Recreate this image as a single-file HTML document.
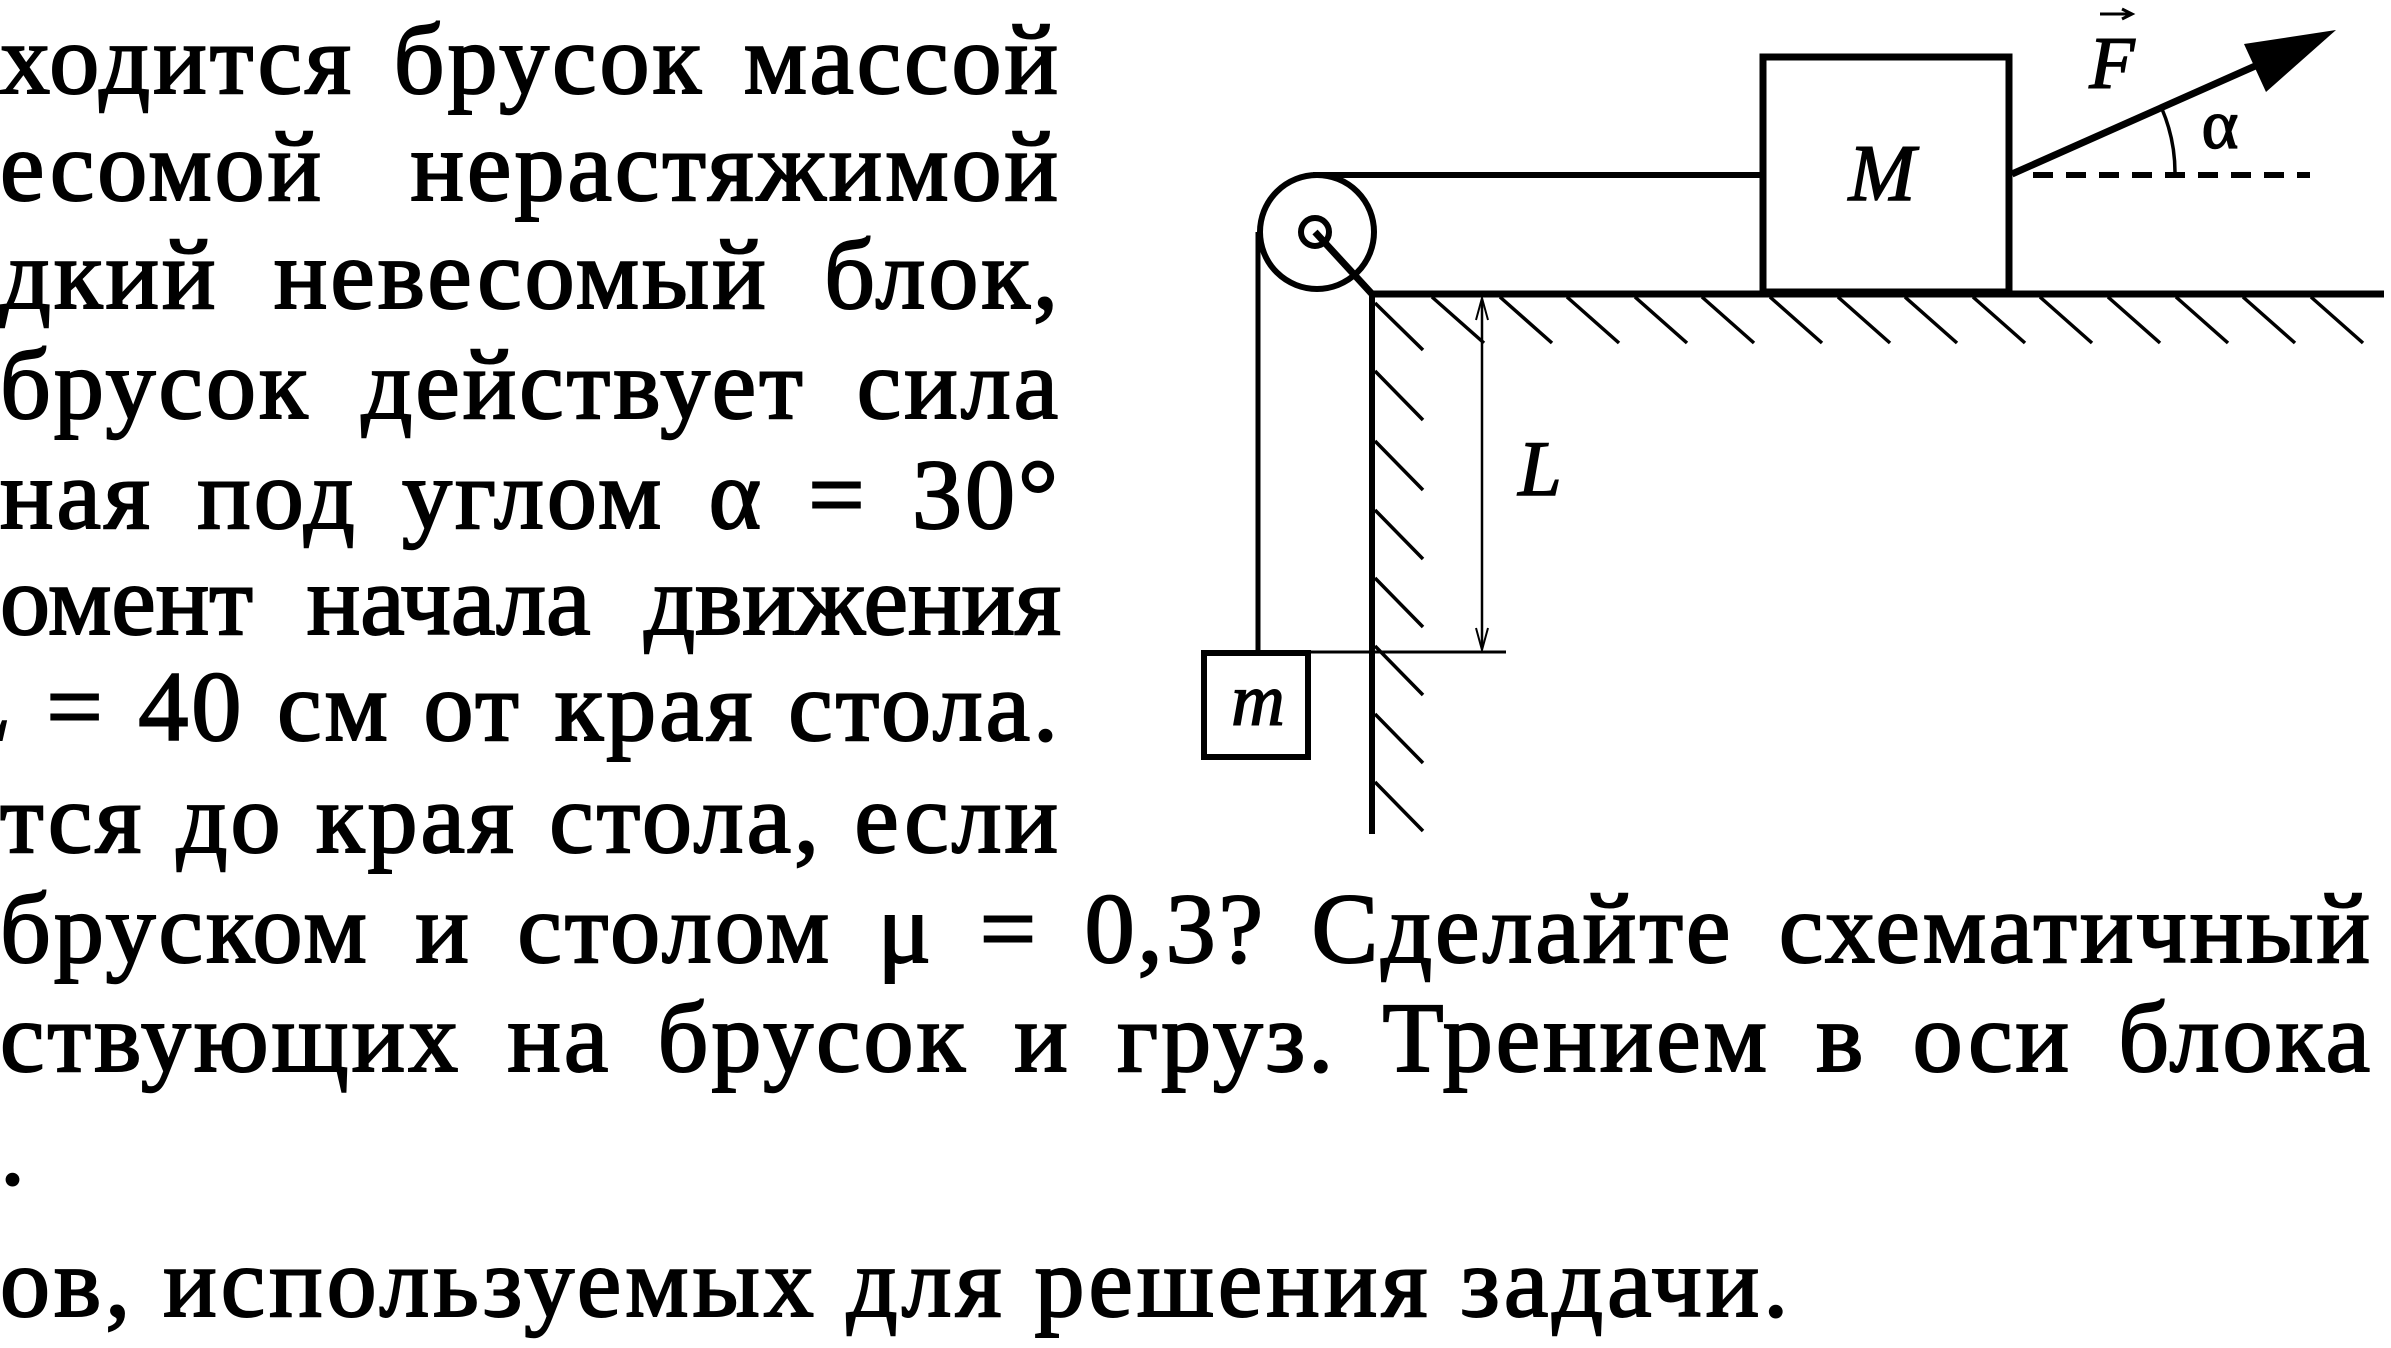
<!DOCTYPE html>
<html><head><meta charset="utf-8"><style>
html,body{margin:0;padding:0;background:#fff;}
body{width:2391px;height:1348px;position:relative;overflow:hidden;}
.l{position:absolute;left:0;width:1061px;font-family:"Liberation Serif",serif;font-size:100px;line-height:100px;color:#000;text-align:justify;text-align-last:justify;white-space:nowrap;-webkit-text-stroke:2px #000;letter-spacing:3px;}
.w{width:2373px;}
svg{position:absolute;left:0;top:0;}
</style></head><body>
<div class="l" style="top:10px">ходится брусок массой</div>
<div class="l" style="top:117px">есомой нерастяжимой</div>
<div class="l" style="top:225px">дкий невесомый блок,</div>
<div class="l" style="top:335px">брусок действует сила</div>
<div class="l" style="top:445px">ная под углом α = 30°</div>
<div class="l" style="top:551px;letter-spacing:0px">омент начала движения</div>
<div class="l" style="top:657px;left:-45px;width:1106px"><i>L</i> = 40 см от края стола.</div>
<div class="l" style="top:769px">тся до края стола, если</div>
<div class="l w" style="top:879px">бруском и столом μ = 0,3? Сделайте схематичный</div>
<div class="l w" style="top:988px">ствующих на брусок и груз. Трением в оси блока</div>
<div class="l" style="top:1101px;text-align-last:left;width:100px">.</div>
<div class="l" style="top:1233px;text-align-last:left;width:auto;letter-spacing:4px">ов, используемых для решения задачи.</div>
<svg width="2391" height="1348" viewBox="0 0 2391 1348">
<g stroke="#000" fill="none" stroke-linecap="butt">
<line x1="1369" y1="294" x2="2384" y2="294" stroke-width="7"/>
<line x1="1372" y1="294" x2="1372" y2="834" stroke-width="6"/>
<g stroke-width="3.5">
<line x1="1432" y1="297" x2="1484" y2="343"/><line x1="1500" y1="297" x2="1552" y2="343"/><line x1="1567" y1="297" x2="1619" y2="343"/><line x1="1635" y1="297" x2="1687" y2="343"/><line x1="1702" y1="297" x2="1754" y2="343"/><line x1="1770" y1="297" x2="1822" y2="343"/><line x1="1838" y1="297" x2="1890" y2="343"/><line x1="1905" y1="297" x2="1957" y2="343"/><line x1="1973" y1="297" x2="2025" y2="343"/><line x1="2040" y1="297" x2="2092" y2="343"/><line x1="2108" y1="297" x2="2160" y2="343"/><line x1="2176" y1="297" x2="2228" y2="343"/><line x1="2243" y1="297" x2="2295" y2="343"/><line x1="2311" y1="297" x2="2363" y2="343"/>
<line x1="1375" y1="303" x2="1423" y2="350"/><line x1="1375" y1="371" x2="1423" y2="420"/><line x1="1375" y1="441" x2="1423" y2="490"/><line x1="1375" y1="510" x2="1423" y2="559"/><line x1="1375" y1="578" x2="1423" y2="627"/><line x1="1375" y1="646" x2="1423" y2="695"/><line x1="1375" y1="714" x2="1423" y2="763"/><line x1="1375" y1="782" x2="1423" y2="831"/>
</g>
<rect x="1763" y="57" width="246" height="235" stroke-width="7"/>
<circle cx="1317" cy="232" r="57" stroke-width="6"/>
<circle cx="1315" cy="232" r="14" stroke-width="6"/>
<line x1="1315" y1="232" x2="1372" y2="294" stroke-width="7"/>
<line x1="1313" y1="175" x2="1763" y2="175" stroke-width="6"/>
<line x1="1258" y1="232" x2="1258" y2="653" stroke-width="5"/>
<rect x="1204" y="653" width="104" height="104" stroke-width="6"/>
<line x1="1308" y1="652" x2="1506" y2="652" stroke-width="3"/>
<line x1="1482" y1="300" x2="1482" y2="648" stroke-width="2.5"/>
<path d="M1476 320 L1482 298 L1488 320 M1476 628 L1482 650 L1488 628" stroke-width="2"/>
<line x1="2012" y1="174" x2="2262" y2="63" stroke-width="7"/>
<polygon points="2336,30 2244,44 2266,92" fill="#000" stroke="none"/>
<line x1="2033" y1="175" x2="2310" y2="175" stroke-width="6" stroke-dasharray="20,13"/>
<path d="M2162 109 A163 163 0 0 1 2175 175" stroke-width="3.5"/>
</g>
<g font-family="Liberation Serif,serif" font-style="italic" fill="#000" stroke="#000" stroke-width="1.5">
<text x="1882" y="200" font-size="80" text-anchor="middle">M</text>
<text x="1258" y="725" font-size="74" text-anchor="middle">m</text>
<text x="1540" y="495" font-size="78" text-anchor="middle">L</text>
<text x="2112" y="88" font-size="74" text-anchor="middle">F</text>
<text x="2220" y="148" font-size="70" font-style="normal" text-anchor="middle">α</text>
</g>
<path d="M2100 14 L2130 14 M2122 9 L2132 14 L2122 19" stroke="#000" stroke-width="3" fill="none"/>
</svg>
</body></html>
